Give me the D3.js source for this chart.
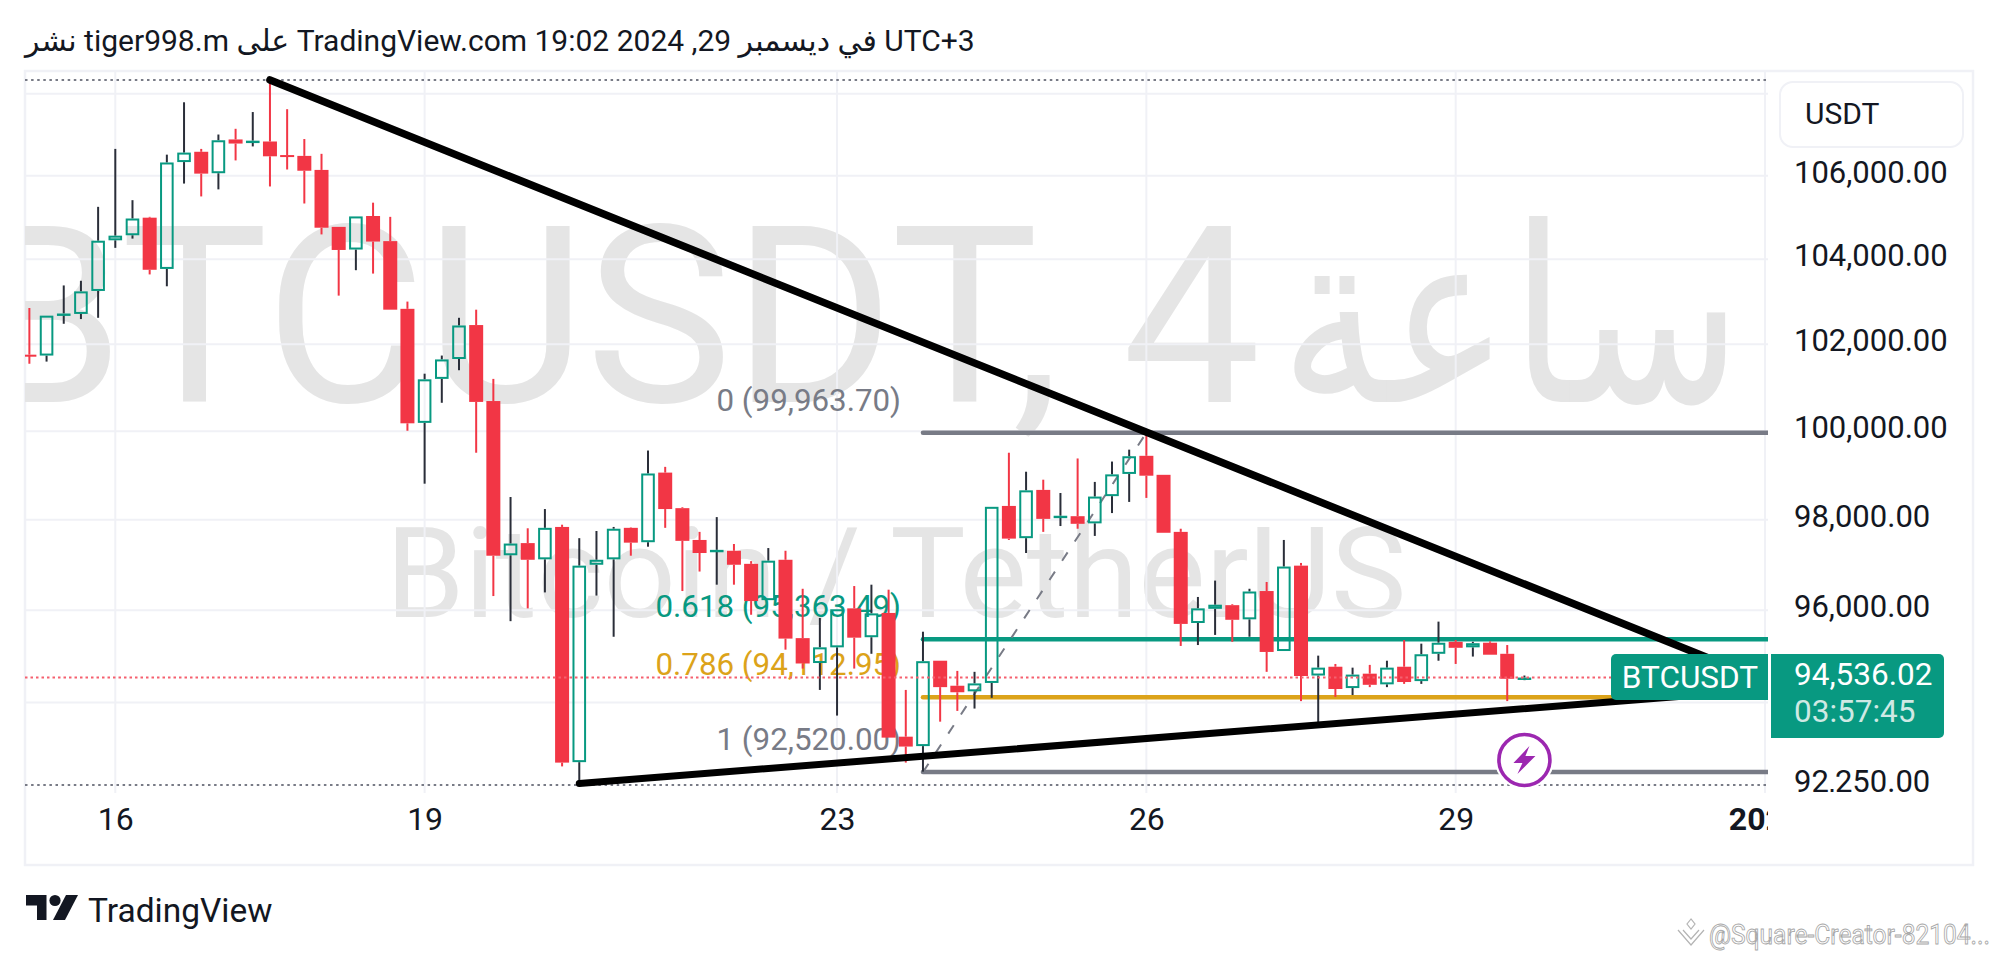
<!DOCTYPE html>
<html>
<head lang="en">
    <meta charset="UTF-8">
    <title>BTCUSDT 4h</title>
    <script src="https://cdn.jsdelivr.net/npm/d3@7/dist/d3.min.js"></script>
    <style>
        html, body { margin: 0; padding: 0; background: #fff; }
        svg { display: block; font-family: Roboto, sans-serif; }
    </style>
</head>
<body>
<div id="chart"></div>
<script>
// candles, 4h each, first one sits 5 bars left of the "16" tick
var firstIndex = -5;
var opens = [
    101760, 101740, 102700, 102710, 103250, 104450, 104570, 104990, 103770, 106330,
    106580, 106060, 106880, 106810, 106830, 106500, 106480, 106140, 104770, 104230,
    105030, 104430, 102830, 100190, 101200, 101660, 102450, 100690, 97210, 97480,
    97120, 97840, 92730, 97000, 97120, 97820, 97500, 99060, 98260, 97550,
    97300, 97310, 97020, 96220, 97110, 95390, 94850, 95190, 96040, 95410,
    95940, 93270, 93070, 94900, 94360, 94240, 94420, 98310, 97590, 98670,
    98040, 98080, 97920, 98530, 99030, 99440, 99010, 97730, 95720, 96030,
    96110, 95800, 96420, 95110, 96980, 94580, 94770, 94310, 94620, 94390,
    94770, 94460, 95050, 95310, 95190, 95290, 95050, 94510
];
var highs = [
    102850, 102670, 103380, 103490, 105250, 106650, 105410, 105010, 106510, 107790,
    106650, 107000, 107140, 107550, 108340, 107620, 106890, 106530, 104770, 105020,
    105350, 105010, 103000, 101320, 101740, 102620, 102810, 101200, 98510, 97810,
    98240, 97890, 97590, 97750, 97840, 97830, 99560, 99190, 98280, 97730,
    98060, 97460, 97080, 97370, 97310, 96470, 95830, 96020, 96530, 96560,
    96450, 94270, 95530, 94900, 94680, 94660, 98290, 99510, 99080, 98900,
    98600, 99380, 98850, 99310, 99580, 99963.7, 99010, 97800, 96290, 96650,
    96130, 96470, 96620, 97550, 97040, 95010, 94830, 94750, 94810, 94900,
    95350, 95270, 95750, 95350, 95310, 95320, 95240, 94580
];
var lows = [
    101550, 101600, 102480, 102590, 102620, 104270, 104490, 103640, 103360, 105810,
    105500, 105670, 106370, 106710, 105740, 106150, 105330, 104590, 103140, 103740,
    103660, 102810, 100010, 98810, 100650, 101400, 99510, 96310, 95760, 96040,
    96390, 92640, 92250, 96320, 95420, 97200, 97400, 97820, 96420, 96850,
    96560, 96560, 95900, 96220, 95140, 94730, 94270, 93720, 94730, 95050,
    93250, 92720, 92530, 93590, 93820, 93870, 94100, 97550, 97260, 97730,
    97860, 97800, 97640, 98150, 98400, 98490, 97710, 95220, 95240, 95460,
    95310, 95420, 94660, 95110, 94030, 93520, 94120, 94160, 94330, 94330,
    94400, 94400, 94900, 94830, 94990, 95030, 94030, 94480
];
var closes = [
    101730, 102670, 102720, 103240, 104440, 104560, 104970, 103750, 106320, 106560,
    106050, 106860, 106780, 106850, 106470, 106470, 106120, 104750, 104220, 105020,
    104420, 102810, 100180, 101190, 101650, 102440, 100670, 97200, 97470, 97110,
    97820, 92720, 96980, 97110, 97800, 97490, 99040, 98240, 97530, 97260,
    97330, 97000, 96200, 97090, 95380, 94840, 95190, 96020, 95400, 95930,
    93250, 93060, 94890, 94330, 94220, 94410, 98290, 97580, 98660, 98020,
    98090, 97910, 98520, 99020, 99430, 98990, 97710, 95700, 96040, 96120,
    95790, 96410, 95090, 96960, 94570, 94750, 94290, 94600, 94380, 94750,
    94440, 95040, 95290, 95180, 95280, 95030, 94510, 94536.02
];

var lastPrice = 94536.02;
var lastPriceText = "94,536.02";
var countdownText = "03:57:45";
var rangeHigh = 108340;
var rangeLow = 92250;

var gridPrices = [108000, 106000, 104000, 102000, 100000, 98000, 96000, 94000];
var priceTicks = [106000, 104000, 102000, 100000, 98000, 96000, 92250];
var timeTicks = [0, 18, 42, 60, 78, 96];
var timeLabels = ["16", "19", "23", "26", "29", "2025"];

var fibLevels = [0, 0.618, 0.786, 1];
var fibPrices = [99963.70, 95363.49, 94112.95, 92520.00];
var fibTexts = ["0 (99,963.70)", "0.618 (95,363.49)", "0.786 (94,112.95)", "1 (92,520.00)"];
var fibColors = ["#787b86", "#089981", "#dca31a", "#787b86"];
var fibStart = 47;
var fibSwingEnd = 60;

// trend lines as [bar index, price]
var trendDown = [[9, 108340], [93, 94915]];
var trendUp = [[27, 92280], [93, 94190]];

var W = 1999, H = 958;
var GREEN = "#089981", RED = "#f23645", WICK = "#2a2e39", GRID = "#f0f1f6", INK = "#131722";
var plotLeft = 25, plotRight = 1768, plotTop = 71, plotBottom = 793;

var x = d3.scaleLinear().domain([0, 96]).range([115.3, 1765]);
var y = d3.scaleLog().domain([106000, 94000]).range([175.7, 702.5]);

var svg = d3.select("#chart").append("svg").attr("width", W).attr("height", H);

svg.append("defs").append("clipPath").attr("id", "plot-clip")
    .append("rect")
    .attr("x", plotLeft).attr("y", plotTop)
    .attr("width", plotRight - plotLeft).attr("height", plotBottom - plotTop);
svg.select("defs").append("clipPath").attr("id", "axis-clip")
    .append("rect")
    .attr("x", plotLeft).attr("y", plotBottom)
    .attr("width", plotRight - plotLeft).attr("height", 70);

// title
svg.append("text")
    .attr("x", 25).attr("y", 51)
    .attr("direction", "ltr")
    .style("font-size", "30px").style("fill", INK)
    .style("font-family", "Roboto, 'DejaVu Sans', sans-serif")
    .text("نشر tiger998.m على TradingView.com 19:02 2024 ,29 في ديسمبر UTC+3");

// frame
svg.append("rect")
    .attr("x", plotLeft).attr("y", plotTop)
    .attr("width", 1948).attr("height", 794)
    .attr("fill", "none").attr("stroke", GRID).attr("stroke-width", 2.5);

var plot = svg.append("g").attr("clip-path", "url(#plot-clip)");

// watermark
var mark = plot.append("g").style("fill", "#e5e5e5");
mark.append("text").attr("x", -30).attr("y", 402)
    .style("font-size", "247px").text("BTCUSDT, 4");
mark.append("text").attr("x", 1280).attr("y", 402)
    .style("font-size", "245px").style("font-family", "'DejaVu Sans', sans-serif")
    .attr("textLength", 462).attr("lengthAdjust", "spacingAndGlyphs")
    .text("ساعة");
mark.append("text").attr("x", 896).attr("y", 617)
    .attr("text-anchor", "middle")
    .style("font-size", "127px").text("Bitcoin / TetherUS");

// grid
plot.selectAll(".grid-h").data(gridPrices).enter().append("line")
    .attr("class", "grid-h")
    .attr("x1", plotLeft).attr("x2", plotRight)
    .attr("y1", function (d) { return y(d); })
    .attr("y2", function (d) { return y(d); })
    .attr("stroke", GRID).attr("stroke-width", 2);
plot.selectAll(".grid-v").data(timeTicks).enter().append("line")
    .attr("class", "grid-v")
    .attr("x1", function (d) { return x(d); })
    .attr("x2", function (d) { return x(d); })
    .attr("y1", plotTop).attr("y2", plotBottom)
    .attr("stroke", GRID).attr("stroke-width", 2);

// range high / low
plot.selectAll(".range").data([rangeHigh, rangeLow]).enter().append("line")
    .attr("class", "range")
    .attr("x1", plotLeft).attr("x2", plotRight)
    .attr("y1", function (d) { return y(d); })
    .attr("y2", function (d) { return y(d); })
    .attr("stroke", "#787b86").attr("stroke-width", 2)
    .attr("stroke-dasharray", "2.5 3.6");

// fib labels sit under the candles
plot.selectAll(".fib-text").data(fibLevels).enter().append("text")
    .attr("class", "fib-text")
    .attr("x", 901)
    .attr("y", function (d, i) { return y(fibPrices[i]) - 22; })
    .attr("text-anchor", "end")
    .style("font-size", "31.3px")
    .style("fill", function (d, i) { return fibColors[i]; })
    .text(function (d, i) { return fibTexts[i]; });

plot.selectAll(".fib-line").data(fibLevels).enter().append("line")
    .attr("class", "fib-line")
    .attr("x1", x(fibStart)).attr("x2", plotRight + 4)
    .attr("y1", function (d, i) { return y(fibPrices[i]); })
    .attr("y2", function (d, i) { return y(fibPrices[i]); })
    .attr("stroke", function (d, i) { return fibColors[i]; })
    .attr("stroke-width", 4.5)
    .attr("stroke-linecap", "round");

plot.append("line")
    .attr("x1", x(fibStart)).attr("y1", y(fibPrices[3]))
    .attr("x2", x(fibSwingEnd)).attr("y2", y(fibPrices[0]))
    .attr("stroke", "#787b86").attr("stroke-width", 2)
    .attr("stroke-dasharray", "10 13");

// candles
var candles = plot.selectAll(".candle").data(d3.range(opens.length)).enter().append("g")
    .attr("class", "candle")
    .attr("transform", function (i) { return "translate(" + x(i + firstIndex) + ",0)"; });

function isUp(i) { return closes[i] >= opens[i]; }
function bodyTop(i) { return y(Math.max(opens[i], closes[i])); }
function bodyBottom(i) { return y(Math.min(opens[i], closes[i])); }

candles.append("line")
    .attr("y1", function (i) { return y(highs[i]); })
    .attr("y2", bodyTop)
    .attr("stroke", function (i) { return isUp(i) ? WICK : RED; })
    .attr("stroke-width", 2);
candles.append("line")
    .attr("y1", bodyBottom)
    .attr("y2", function (i) { return y(lows[i]); })
    .attr("stroke", function (i) { return isUp(i) ? WICK : RED; })
    .attr("stroke-width", 2);

candles.filter(isUp).append("rect")
    .attr("x", -5.8).attr("width", 11.6)
    .attr("y", function (i) { return bodyTop(i) + 1; })
    .attr("height", function (i) { return Math.max(0.4, bodyBottom(i) - bodyTop(i) - 2); })
    .attr("fill", "none").attr("stroke", GREEN).attr("stroke-width", 2);
candles.filter(function (i) { return !isUp(i); }).append("rect")
    .attr("x", -7).attr("width", 14)
    .attr("y", bodyTop)
    .attr("height", function (i) { return Math.max(2, bodyBottom(i) - bodyTop(i)); })
    .attr("fill", RED);

// last price line
plot.append("line")
    .attr("x1", plotLeft).attr("x2", 1612)
    .attr("y1", y(lastPrice)).attr("y2", y(lastPrice))
    .attr("stroke", "#f5606f").attr("stroke-width", 2)
    .attr("stroke-dasharray", "2.5 3");

// trend lines
var trendPath = d3.line()
    .x(function (d) { return x(d[0]); })
    .y(function (d) { return y(d[1]); });
plot.selectAll(".trend").data([trendDown, trendUp]).enter().append("path")
    .attr("class", "trend")
    .attr("d", trendPath)
    .attr("fill", "none").attr("stroke", "#000")
    .attr("stroke-width", function (d, i) { return i === 0 ? 7.5 : 7; })
    .attr("stroke-linecap", "round");

// bolt marker under the last bar
var bolt = plot.append("g")
    .attr("transform", "translate(" + x(82) + ",760)");
bolt.append("circle").attr("r", 29.5).attr("fill", "#fff");
bolt.append("circle").attr("r", 25.5)
    .attr("fill", "#fff").attr("stroke", "#9c27b0").attr("stroke-width", 3.6);
bolt.append("path")
    .attr("d", "M5,-14 L-11,3 L-2,3 L-7,14 L11,-4 L1,-4 Z")
    .attr("fill", "#9c27b0");

// symbol tag
svg.append("path")
    .attr("d", "M1768,654 H1616 a5,5 0 0 0 -5,5 V695 a5,5 0 0 0 5,5 H1768 Z")
    .attr("fill", GREEN);
svg.append("text")
    .attr("x", 1690).attr("y", 688)
    .attr("text-anchor", "middle")
    .style("font-size", "31.5px").style("fill", "#fff")
    .text("BTCUSDT");

// price axis
var priceAxis = d3.axisRight(y)
    .tickValues(priceTicks)
    .tickSize(0)
    .tickPadding(0)
    .tickFormat(d3.format(",.2f"));
svg.append("g")
    .attr("clip-path", "url(#price-clip)")
    .attr("transform", "translate(1794,-3.5)")
    .call(priceAxis)
    .call(function (g) { g.select(".domain").remove(); })
    .call(function (g) {
        g.selectAll("text")
            .style("font-size", "31px")
            .style("font-family", "Roboto, sans-serif")
            .style("fill", INK);
    });
svg.select("defs").append("clipPath").attr("id", "price-clip")
    .append("rect").attr("x", -30).attr("y", 60).attr("width", 210).attr("height", 735.5);

// price tag
svg.append("path")
    .attr("d", "M1771,654 H1939 a5,5 0 0 1 5,5 V733 a5,5 0 0 1 -5,5 H1771 Z")
    .attr("fill", GREEN);
svg.append("text")
    .attr("x", 1794).attr("y", 685)
    .style("font-size", "31.5px").style("fill", "#fff")
    .text(lastPriceText);
svg.append("text")
    .attr("x", 1794).attr("y", 722)
    .style("font-size", "31.5px").style("fill", "#cfe9e4")
    .text(countdownText);

// currency button
svg.append("rect")
    .attr("x", 1780).attr("y", 82)
    .attr("width", 183).attr("height", 65).attr("rx", 13)
    .attr("fill", "#fff").attr("stroke", GRID).attr("stroke-width", 2);
svg.append("text")
    .attr("x", 1805).attr("y", 124)
    .style("font-size", "30px").style("fill", INK)
    .text("USDT");

// time axis
var timeAxis = d3.axisBottom(x)
    .tickValues(timeTicks)
    .tickSize(0)
    .tickPadding(0)
    .tickFormat(function (d, i) { return timeLabels[i]; });
svg.append("g")
    .attr("clip-path", "url(#axis-clip)")
    .append("g")
    .attr("transform", "translate(0,807)")
    .call(timeAxis)
    .call(function (g) { g.select(".domain").remove(); })
    .call(function (g) {
        g.selectAll("text")
            .style("font-size", "32px")
            .style("font-family", "Roboto, sans-serif")
            .style("font-weight", function (d) { return d === 96 ? 700 : 400; })
            .style("fill", INK);
    });

// logo
var logo = svg.append("g").attr("fill", INK);
logo.append("path").attr("d", "M26,895 H46.5 V920 H37 V905.5 H26 Z");
logo.append("circle").attr("cx", 55).attr("cy", 900.5).attr("r", 5.6);
logo.append("path").attr("d", "M66,895 H78 L65,920 H53 Z");
svg.append("text")
    .attr("x", 88).attr("y", 922)
    .style("font-size", "33.5px").style("fill", INK)
    .text("TradingView");

// page stamp, bottom right
var stamp = svg.append("g").attr("fill", "none").attr("stroke", "#b4b4b4").attr("stroke-width", 1.2);
stamp.append("path").attr("d", "M1678,930 L1691,945 L1704,930 M1683,930 L1691,939 L1699,930 M1691,919 L1687,924 L1691,929 L1695,924 Z");
svg.append("text")
    .attr("x", 1709).attr("y", 944)
    .attr("textLength", 281).attr("lengthAdjust", "spacingAndGlyphs")
    .style("font-size", "27px")
    .style("fill", "#fff").style("stroke", "#a8a8a8").style("stroke-width", "0.9px")
    .text("@Square-Creator-82104...");
</script>
</body>
</html>
